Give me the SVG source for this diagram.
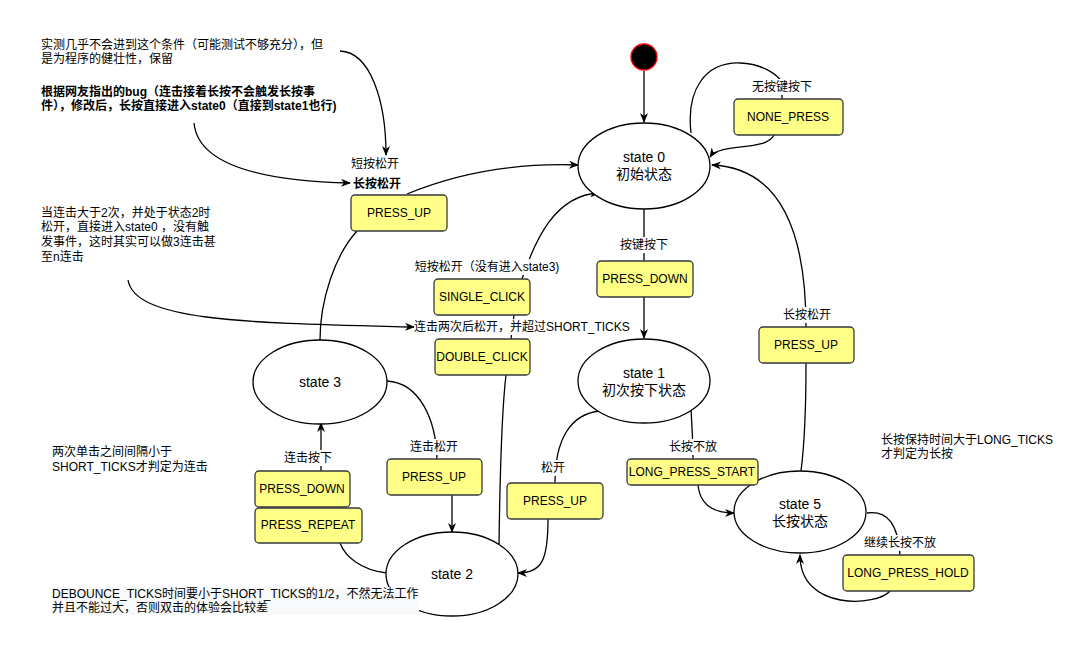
<svg xmlns="http://www.w3.org/2000/svg" width="1085" height="658" viewBox="0 0 1085 658">
<style>
text{font-family:"Liberation Sans","Noto Sans CJK SC",Arial,sans-serif;fill:#000;}
.st{font-size:14px;text-anchor:middle;dominant-baseline:central;}
.bx{font-size:12px;text-anchor:middle;dominant-baseline:central;}
.lb{font-size:12px;text-anchor:middle;dominant-baseline:central;}
.nt{font-size:12px;dominant-baseline:central;}
.b{font-weight:bold;}
.state{fill:#fff;stroke:#000;stroke-width:1.3;}
.box{fill:#ffff88;stroke:#36393d;stroke-width:1.3;}
.c{fill:none;stroke:#000;stroke-width:1.3;}
.a{marker-end:url(#arr);}
.bg{fill:#fff;}
</style>
<defs>
<marker id="arr" viewBox="0 0 10 8" refX="9" refY="4" markerWidth="10" markerHeight="8" markerUnits="userSpaceOnUse" orient="auto">
<path d="M0,0 L10,4 L0,8 L3,4 Z" fill="#000"/>
</marker>
</defs>
<rect width="1085" height="658" fill="#fff"/>

<g id="connectors">
<path class="c a" d="M644,71 L644,122"/>
<path class="c" d="M691,133 C686,90 705,62 740,63 C765,64 778,76 782,82 L782,99"/>
<path class="c a" d="M774,135 C766,152 720,142 710,157"/>
<path class="c" d="M644,209 L644,261"/>
<path class="c a" d="M644,297 L644,338"/>
<path class="c" d="M691,408 C692,430 693,440 693,459"/>
<path class="c a" d="M698,485 C700,505 713,513 734,513"/>
<path class="c" d="M801,471 C805,440 806,400 806,363"/>
<path class="c a" d="M806,327 C806,230 780,168 712,165"/>
<path class="c" d="M867,513 C888,510 898,525 900,555"/>
<path class="c a" d="M890,591 C878,606 800,612 800,555"/>
<path class="c" d="M600,411 C570,414 555,440 555,483"/>
<path class="c a" d="M548,519 C548,560 542,573 518,573"/>
<path class="c" d="M387,381 C420,383 436,420 437,459"/>
<path class="c a" d="M452,495 L452,532"/>
<path class="c" d="M387,573 C360,570 345,556 340,543"/>
<path class="c a" d="M321,471 L321,423"/>
<path class="c" d="M499,545 C500,470 503,400 506,375"/>
<path class="c" d="M514,315 L511,339"/>
<path class="c a" d="M522,279 C535,240 555,195 599,193"/>
<path class="c" d="M320,340 C320,300 335,255 357,231"/>
<path class="c a" d="M407,194 C460,172 520,163 578,165"/>
<path class="c a" d="M340,51 C370,52 386,100 386,155"/>
<path class="c a" d="M194,123 C198,165 260,181 350,183"/>
<path class="c a" d="M128,280 C135,322 250,323 414,327"/>
</g>

<g id="start">
<circle cx="644" cy="57" r="13" fill="#000" stroke="#ff0000" stroke-width="1.3"/>
</g>

<g id="state0">
<ellipse class="state" cx="644" cy="166" rx="66" ry="43"/>
<text class="st" x="644" y="157">state 0</text>
<text class="st" x="644" y="174">初始状态</text>
</g>
<g id="state1">
<ellipse class="state" cx="644" cy="381" rx="66" ry="42"/>
<text class="st" x="644" y="373">state 1</text>
<text class="st" x="644" y="390">初次按下状态</text>
</g>
<g id="state2">
<ellipse class="state" cx="452" cy="574" rx="66" ry="42"/>
<text class="st" x="452" y="574">state 2</text>
</g>
<g id="state3">
<ellipse class="state" cx="320" cy="382" rx="67" ry="42"/>
<text class="st" x="320" y="382">state 3</text>
</g>
<g id="state5">
<ellipse class="state" cx="800" cy="512" rx="66" ry="41"/>
<text class="st" x="800" y="504">state 5</text>
<text class="st" x="800" y="521">长按状态</text>
</g>

<g id="none_press">
<rect class="bg" x="752" y="79" width="60" height="16"/>
<text class="lb" x="782" y="87">无按键按下</text>
<rect class="box" x="734" y="99" width="109" height="36" rx="4"/>
<text class="bx" x="788" y="117">NONE_PRESS</text>
</g>
<g id="press_down_1">
<rect class="bg" x="619" y="237" width="50" height="16"/>
<text class="lb" x="644" y="245">按键按下</text>
<rect class="box" x="597" y="261" width="96" height="36" rx="4"/>
<text class="bx" x="645" y="279">PRESS_DOWN</text>
</g>
<g id="press_up_5">
<rect class="bg" x="782" y="307" width="50" height="16"/>
<text class="lb" x="807" y="315">长按松开</text>
<rect class="box" x="759" y="327" width="95" height="36" rx="4"/>
<text class="bx" x="806" y="345">PRESS_UP</text>
</g>
<g id="long_press_start">
<rect class="bg" x="668" y="439" width="50" height="16"/>
<text class="lb" x="693" y="447">长按不放</text>
<rect class="box" x="627" y="459" width="131" height="26" rx="4"/>
<text class="bx" x="692" y="472">LONG_PRESS_START</text>
</g>
<g id="long_press_hold">
<rect class="bg" x="863" y="535" width="74" height="16"/>
<text class="lb" x="900" y="543">继续长按不放</text>
<rect class="box" x="843" y="555" width="131" height="36" rx="4"/>
<text class="bx" x="908" y="573">LONG_PRESS_HOLD</text>
</g>
<g id="press_up_1">
<rect class="bg" x="540" y="460" width="26" height="16"/>
<text class="lb" x="553" y="468">松开</text>
<rect class="box" x="507" y="483" width="96" height="36" rx="4"/>
<text class="bx" x="555" y="501">PRESS_UP</text>
</g>
<g id="press_up_3">
<rect class="bg" x="409" y="439" width="50" height="16"/>
<text class="lb" x="434" y="447">连击松开</text>
<rect class="box" x="387" y="459" width="95" height="36" rx="4"/>
<text class="bx" x="434" y="477">PRESS_UP</text>
</g>
<g id="press_down_2">
<rect class="bg" x="283" y="450" width="50" height="16"/>
<text class="lb" x="308" y="458">连击按下</text>
<rect class="box" x="255" y="471" width="95" height="36" rx="4"/>
<text class="bx" x="302" y="489">PRESS_DOWN</text>
</g>
<g id="press_repeat">
<rect class="box" x="255" y="508" width="107" height="35" rx="4"/>
<text class="bx" x="308" y="525">PRESS_REPEAT</text>
</g>
<g id="single_click">
<rect class="bg" x="414" y="259" width="147" height="16"/>
<text class="lb" x="487" y="267">短按松开（没有进入state3)</text>
<rect class="box" x="434" y="279" width="96" height="36" rx="4"/>
<text class="bx" x="482" y="297">SINGLE_CLICK</text>
</g>
<g id="double_click">
<rect class="bg" x="414" y="319" width="217" height="16" fill="#fafafa"/>
<text class="nt" x="414" y="327">连击两次后松开，并超过SHORT_TICKS</text>
<rect class="box" x="435" y="339" width="95" height="36" rx="4"/>
<text class="bx" x="482" y="357">DOUBLE_CLICK</text>
</g>
<g id="press_up_top">
<text class="lb" x="375" y="164">短按松开</text>
<text class="lb b" x="377" y="184">长按松开</text>
<rect class="box" x="351" y="195" width="96" height="36" rx="4"/>
<text class="bx" x="399" y="213">PRESS_UP</text>
</g>

<g id="notes">
<text class="nt" x="41" y="45">实测几乎不会进到这个条件（可能测试不够充分），但</text>
<text class="nt" x="41" y="59">是为程序的健壮性，保留</text>
<text class="nt b" x="41" y="92">根据网友指出的bug（连击接着长按不会触发长按事</text>
<text class="nt b" x="41" y="106">件），修改后，长按直接进入state0（直接到state1也行)</text>
<text class="nt" x="41" y="213">当连击大于2次，并处于状态2时</text>
<text class="nt" x="41" y="227">松开，直接进入state0 ，没有触</text>
<text class="nt" x="41" y="242">发事件，这时其实可以做3连击甚</text>
<text class="nt" x="41" y="257">至n连击</text>
<text class="nt" x="52" y="452">两次单击之间间隔小于</text>
<text class="nt" x="52" y="467">SHORT_TICKS才判定为连击</text>
<rect x="52" y="587" width="367" height="28" fill="#f8f9fa"/>
<text class="nt" x="52" y="594">DEBOUNCE_TICKS时间要小于SHORT_TICKS的1/2，不然无法工作</text>
<text class="nt" x="52" y="608">并且不能过大，否则双击的体验会比较差</text>
<text class="nt" x="881" y="440">长按保持时间大于LONG_TICKS</text>
<text class="nt" x="881" y="454">才判定为长按</text>
</g>
</svg>
